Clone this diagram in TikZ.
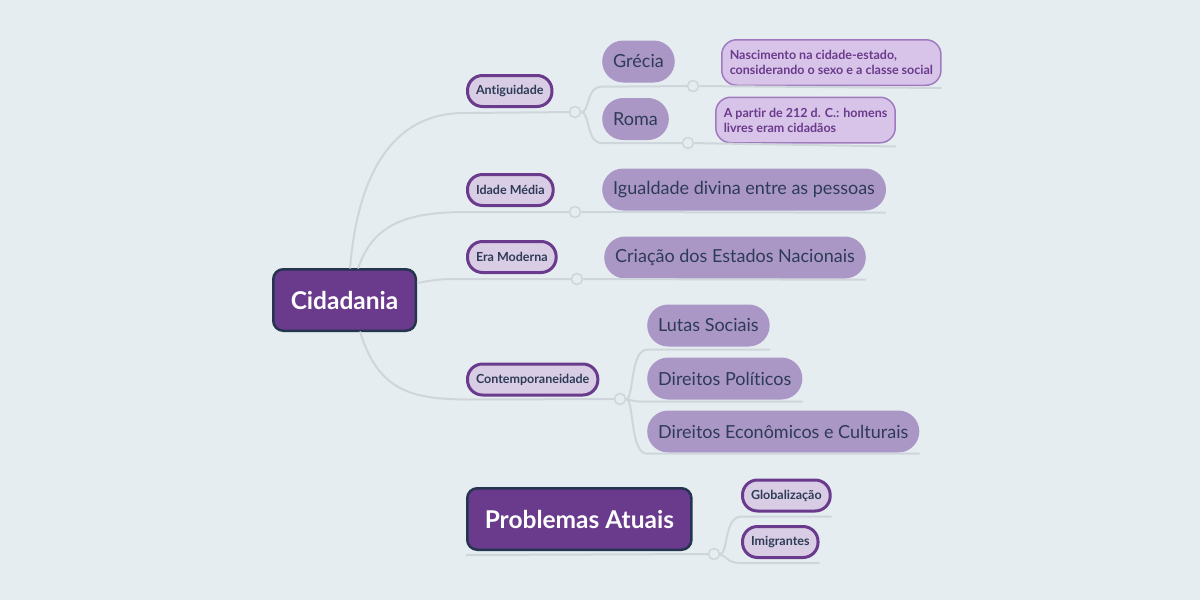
\documentclass[tikz,border=0pt]{standalone}
\usepackage{fontspec}
\setmainfont{Lato}[Ligatures=NoCommon]
\definecolor{cdBg}{HTML}{E6EDF1}
\definecolor{cdPurple}{HTML}{6A3A8C}
\definecolor{cdNavy}{HTML}{26354F}
\definecolor{cdLilac}{HTML}{D8CDE4}
\definecolor{cdLeafFill}{HTML}{AA97C6}
\definecolor{cdNoteFill}{HTML}{D8C4E8}
\definecolor{cdNoteLine}{HTML}{A07ABE}
\definecolor{cdInk}{HTML}{2E3B57}
\definecolor{cdLine}{HTML}{CFD6DB}
\begin{document}
\begin{tikzpicture}[
    x=1pt, y=-1pt,
    cdMain/.style={draw=cdNavy, line width=2.5pt, fill=cdPurple, rounded corners=10pt,
        text=white, font=\fontsize{24.5}{28}\selectfont\bfseries,
        minimum height=61.5pt, inner xsep=17.5pt, anchor=west},
    cdSub/.style={draw=cdPurple, line width=3pt, fill=cdLilac, rounded corners=15pt,
        text=cdInk, font=\fontsize{12.5}{14}\selectfont\bfseries,
        minimum height=31pt, inner xsep=8.5pt, anchor=west},
    cdLeaf/.style={fill=cdLeafFill, rounded corners=21pt, text=cdInk,
        font=\fontsize{18}{21}\selectfont, minimum height=42pt, inner xsep=11pt, anchor=west},
    cdNote/.style={draw=cdNoteLine, line width=1.5pt, fill=cdNoteFill, rounded corners=15pt,
        text=cdPurple, font=\fontsize{12.5}{15}\selectfont\bfseries, align=left,
        minimum height=45.5pt, inner xsep=8pt, anchor=west},
    cdDot/.style={circle, draw=cdLine, fill=cdBg, line width=1.5pt, minimum size=11pt, inner sep=0pt},
    cdLink/.style={draw=cdLine, line width=2pt}
]
\fill[cdBg] (0,0) rectangle (1200,600);
\useasboundingbox (0,0) rectangle (1200,600);

% main topics
\node[cdMain] (cid) at (272,300) {Cidadania};
\node[cdMain] (prob) at (466,519) {Problemas Atuais};

% periods
\node[cdSub] (ant) at (466,91) {Antiguidade};
\node[cdSub] (idm) at (466,190) {Idade Média};
\node[cdSub] (erm) at (466,257) {Era Moderna};
\node[cdSub] (con) at (466,379.5) {Contemporaneidade};
\node[cdSub] (glo) at (741,495.5) {Globalização};
\node[cdSub] (imi) at (741,542) {Imigrantes};

% leaves
\node[cdLeaf] (gre) at (602,61.5) {Grécia};
\node[cdLeaf] (rom) at (602,119) {Roma};
\node[cdLeaf] (igu) at (602,189.5) {Igualdade divina entre as pessoas};
\node[cdLeaf] (cri) at (604,257.5) {Criação dos Estados Nacionais};
\node[cdLeaf] (lut) at (647,325.5) {Lutas Sociais};
\node[cdLeaf] (dpo) at (647,378.5) {Direitos Políticos};
\node[cdLeaf] (dec) at (647,431.5) {Direitos Econômicos e Culturais};
\node[cdNote] (nas) at (721,62.5) {Nascimento na cidade-estado,\\considerando o sexo e a classe social};
\node[cdNote] (apa) at (715,120) {A partir de 212 d. C.: homens\\livres eram cidadãos};

% joints
\node[cdDot] (dAnt) at (575,112) {};
\node[cdDot] (dIdm) at (575,212) {};
\node[cdDot] (dErm) at (577,279) {};
\node[cdDot] (dCon) at (620,399) {};
\node[cdDot] (dGre) at (693,86) {};
\node[cdDot] (dRom) at (688,143) {};
\node[cdDot] (dProb) at (714,554) {};

% links
\draw[cdLink] (350,268.5) .. controls (358,170) and (395,112) .. ([yshift=-5pt]ant.south west) -- (dAnt);
\draw[cdLink] (358,268.5) .. controls (372,228) and (400,212) .. ([yshift=-5pt]idm.south west) -- (dIdm);
\draw[cdLink] ([yshift=17pt]cid.east) .. controls (440,279) .. ([yshift=-5pt]erm.south west) -- (dErm);
\draw[cdLink] (360,331.5) .. controls (378,390) and (410,399) .. ([yshift=-3pt]con.south west) -- (dCon);
\draw[cdLink] (dAnt) .. controls (590,112) and (586,86) .. ([yshift=-4pt]gre.south west) -- (dGre);
\draw[cdLink] (dGre) -- ([yshift=-2pt]nas.south east);
\draw[cdLink] (dAnt) .. controls (590,112) and (586,143) .. ([yshift=-3pt]rom.south west) -- (dRom);
\draw[cdLink] (dRom) -- ([yshift=-3pt]apa.south east);
\draw[cdLink] (dIdm) -- ([yshift=-2pt]igu.south east);
\draw[cdLink] (dErm) -- ([yshift=-1pt]cri.south east);
\draw[cdLink] (dCon) .. controls (634,399) and (630,350) .. ([yshift=-3pt]lut.south west) -- ([yshift=-3pt]lut.south east);
\draw[cdLink] (dCon) .. controls (632,400) and (634,402) .. ([yshift=-2pt]dpo.south west) -- ([yshift=-2pt]dpo.south east);
\draw[cdLink] (dCon) .. controls (634,399) and (630,454) .. ([yshift=-1pt]dec.south west) -- ([yshift=-1pt]dec.south east);
\draw[cdLink] ([yshift=-4pt]prob.south west) -- (dProb);
\draw[cdLink] (dProb) .. controls (728,554) and (724,517) .. ([yshift=-4pt]glo.south west) -- ([yshift=-4pt]glo.south east);
\draw[cdLink] (dProb) .. controls (728,556) and (726,563) .. ([yshift=-4pt]imi.south west) -- ([yshift=-4pt]imi.south east);
\end{tikzpicture}
\end{document}
